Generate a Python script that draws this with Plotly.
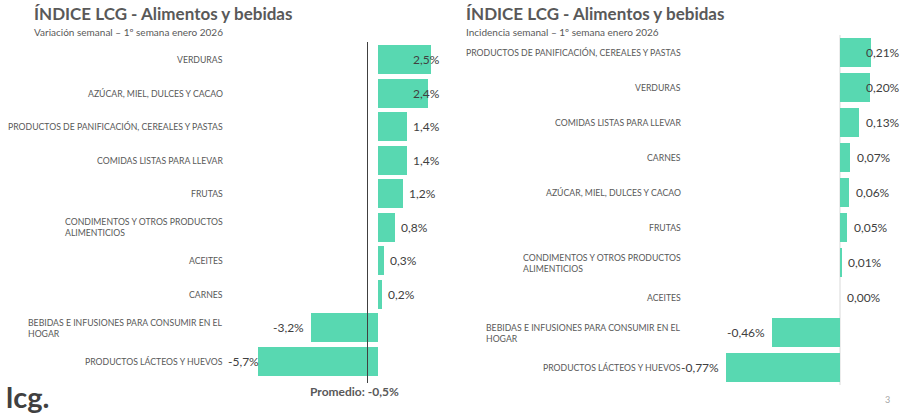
import plotly.graph_objects as go

# ---------------- DATA ----------------
titulo = "ÍNDICE LCG - Alimentos y bebidas"
subtitulo_var = "Variación semanal – 1º semana enero 2026"
subtitulo_inc = "Incidencia semanal – 1º semana enero 2026"

categorias_var = [
    "VERDURAS",
    "AZÚCAR, MIEL, DULCES Y CACAO",
    "PRODUCTOS DE PANIFICACIÓN, CEREALES Y PASTAS",
    "COMIDAS LISTAS PARA LLEVAR",
    "FRUTAS",
    "CONDIMENTOS Y OTROS PRODUCTOS<br>ALIMENTICIOS",
    "ACEITES",
    "CARNES",
    "BEBIDAS E INFUSIONES PARA CONSUMIR EN EL<br>HOGAR",
    "PRODUCTOS LÁCTEOS Y HUEVOS",
]
variacion = [2.5, 2.4, 1.4, 1.4, 1.2, 0.8, 0.3, 0.2, -3.2, -5.7]
promedio = -0.5

categorias_inc = [
    "PRODUCTOS DE PANIFICACIÓN, CEREALES Y PASTAS",
    "VERDURAS",
    "COMIDAS LISTAS PARA LLEVAR",
    "CARNES",
    "AZÚCAR, MIEL, DULCES Y CACAO",
    "FRUTAS",
    "CONDIMENTOS Y OTROS PRODUCTOS<br>ALIMENTICIOS",
    "ACEITES",
    "BEBIDAS E INFUSIONES PARA CONSUMIR EN EL<br>HOGAR",
    "PRODUCTOS LÁCTEOS Y HUEVOS",
]
incidencia = [0.21, 0.20, 0.13, 0.07, 0.06, 0.05, 0.01, 0.00, -0.46, -0.77]

# ---------------- STYLE ----------------
W, H = 900, 416
VERDE = "#58D8B1"
GRIS_T = "#595959"
GRIS_V = "#404040"
FONT = "Lato"

def px(x):
    return x / W

def py(y):
    return 1 - y / H

fig = go.Figure()

fig.add_trace(go.Bar(x=variacion, y=categorias_var, orientation="h",
                     marker=dict(color=VERDE, line=dict(width=0)), width=0.88,
                     xaxis="x", yaxis="y", hoverinfo="skip"))
fig.add_trace(go.Bar(x=incidencia, y=categorias_inc, orientation="h",
                     marker=dict(color=VERDE, line=dict(width=0)), width=0.83,
                     xaxis="x2", yaxis="y2", hoverinfo="skip"))

ann = []
# category labels
for c in categorias_var:
    ann.append(dict(x=px(225), xref="paper", y=c, yref="y", text=c, xanchor="right",
                    align="left", showarrow=False,
                    font=dict(family=FONT, size=8.7, color=GRIS_T)))
for c in categorias_inc:
    ann.append(dict(x=px(683), xref="paper", y=c, yref="y2", text=c, xanchor="right",
                    align="left", showarrow=False,
                    font=dict(family=FONT, size=8.7, color=GRIS_T)))

def fmt(v, d):
    return f"{v:.{d}f}".replace(".", ",") + "%"

# value labels (left)
for c, v in zip(categorias_var, variacion):
    if v >= 0:
        ann.append(dict(x=min(v, 1.4), xref="x", y=c, yref="y", text=fmt(v, 1),
                        xanchor="left", xshift=4, showarrow=False,
                        font=dict(family=FONT, size=12, color=GRIS_V)))
    else:
        ann.append(dict(x=max(v, -5.35), xref="x", y=c, yref="y", text=fmt(v, 1),
                        xanchor="right", xshift=-5, showarrow=False,
                        font=dict(family=FONT, size=12, color=GRIS_V)))
# value labels (right)
for c, v in zip(categorias_inc, incidencia):
    if v >= 0:
        ann.append(dict(x=min(v, 0.125), xref="x2", y=c, yref="y2", text=fmt(v, 2),
                        xanchor="left", xshift=5, showarrow=False,
                        font=dict(family=FONT, size=12, color=GRIS_V)))
    else:
        ann.append(dict(x=v, xref="x2", y=c, yref="y2", text=fmt(v, 2),
                        xanchor="right", xshift=-5, showarrow=False,
                        font=dict(family=FONT, size=12, color=GRIS_V)))

# titles
for x0, sub in [(34, subtitulo_var), (466, subtitulo_inc)]:
    ann.append(dict(x=px(x0), xref="paper", y=py(14), yref="paper", text="<b>" + titulo + "</b>",
                    xanchor="left", yanchor="middle", showarrow=False, xshift=-2,
                    font=dict(family=FONT, size=17, color=GRIS_T)))
    ann.append(dict(x=px(x0), xref="paper", y=py(32), yref="paper", text=sub,
                    xanchor="left", yanchor="middle", showarrow=False, xshift=-2,
                    font=dict(family=FONT, size=10, color=GRIS_T)))

# promedio label
ann.append(dict(x=px(354), xref="paper", y=py(391), yref="paper",
                text="<b>Promedio: " + fmt(promedio, 1) + "</b>",
                xanchor="center", yanchor="middle", showarrow=False,
                font=dict(family=FONT, size=12, color=GRIS_T)))
# logo and page number
ann.append(dict(x=px(4), xref="paper", y=py(396), yref="paper", text="<b>lcg.</b>",
                xanchor="left", yanchor="middle", showarrow=False,
                font=dict(family=FONT, size=29, color=GRIS_V)))
ann.append(dict(x=px(887), xref="paper", y=py(399), yref="paper", text="3",
                xanchor="center", yanchor="middle", showarrow=False,
                font=dict(family=FONT, size=9, color="#A6A6A6")))

shapes = [
    dict(type="line", xref="x", x0=promedio, x1=promedio, yref="paper",
         y0=py(383), y1=py(42), line=dict(color=GRIS_V, width=1), layer="above"),
    dict(type="line", xref="x2", x0=0, x1=0, yref="paper",
         y0=py(385), y1=py(35), line=dict(color="#D9D9D9", width=1), layer="below"),
]

fig.update_layout(
    width=W, height=H, margin=dict(l=0, r=0, t=0, b=0),
    paper_bgcolor="white", plot_bgcolor="rgba(0,0,0,0)",
    showlegend=False, bargap=0,
    annotations=ann, shapes=shapes,
    xaxis=dict(domain=[px(231), px(440)], range=[(231 - 378) / 21, (440 - 378) / 21],
               visible=False, fixedrange=True),
    yaxis=dict(domain=[py(378), py(43)], autorange="reversed", visible=False,
               anchor="x", fixedrange=True),
    xaxis2=dict(domain=[px(690), px(898)], range=[(690 - 840) / 148, (898 - 840) / 148],
                visible=False, anchor="y2", fixedrange=True),
    yaxis2=dict(domain=[py(385), py(35)], autorange="reversed", visible=False,
                anchor="x2", fixedrange=True),
)

fig.write_html("out.html", config={"displayModeBar": False},
               post_script="document.body.style.margin='0';document.body.style.overflow='hidden';")
